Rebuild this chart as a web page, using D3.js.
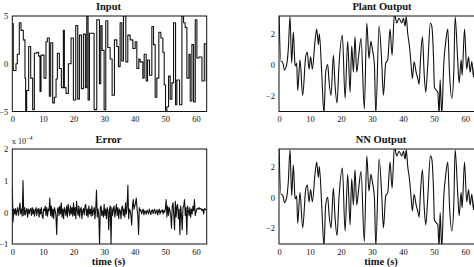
<!DOCTYPE html>
<html>
<head>
<meta charset="utf-8">
<script src="https://cdn.jsdelivr.net/npm/d3@7"></script>
<style>
body { margin: 0; background: #fff; }
text { font-family: "Liberation Serif", "Times New Roman", serif; }
</style>
</head>
<body>
<div id="chart"></div>
<script>
// ---- data ----
var tMax = 63.5;
var xTicks = [0, 10, 20, 30, 40, 50, 60];

// input: piecewise constant, value holds from inputT[i] until next time
var inputT = [0, 0.33, 1.2, 1.64, 2.29, 2.84, 3.6, 4.14, 4.36, 4.69, 5.34, 6.0, 6.65, 7.2, 7.96, 8.6,
    9.05, 9.38, 10.36, 11.0, 11.45, 12.1, 12.54, 13.2, 13.74, 14.29, 14.72, 15.38, 16.03, 16.68, 17.01,
    17.56, 18.32, 19.19, 19.96, 20.72, 21.37, 21.92, 22.57, 23.23, 23.88, 24.32, 24.75, 25.19, 26.72,
    27.59, 28.46, 28.9, 29.33, 29.99, 30.53, 31.19, 31.95, 32.61, 33.37, 34.13, 34.68, 35.22, 35.77,
    36.31, 37.08, 37.73, 38.5, 39.37, 40.13, 40.68, 41.33, 41.77, 42.64, 43.08, 43.73, 44.17, 44.82,
    45.58, 46.13, 46.67, 47.22, 47.87, 48.53, 49.18, 49.62, 50.05, 50.49, 51.04, 51.58, 52.13, 52.67,
    53.33, 53.76, 54.64, 55.4, 55.94, 56.49, 57.03, 57.69, 58.12, 58.67, 59.22, 59.76, 60.3, 60.96,
    61.94, 62.7, 63.36, 63.5];
var inputV = [4.2, -0.7, 0, 1, 4.3, 3.5, 2.5, -1.5, -5, -2.8, 1.8, -1.5, -4.8, 1.1, 1.2, 0.8,
    -2.9, 0.9, -1.5, 2.3, 2.7, -3.4, 2.2, -4.1, -3.5, -1.6, 1.1, -0.5, -2.5, 3.5, -2.5,
    -3.1, 0, 2.7, -3.8, 4, -3.7, 3, -2.6, 3.1, -2.5, 5, -3.8, 3.2, -4.8,
    4.6, -2.1, 4, 1.4, -4.8, 4.5, 1.7, 0.5, -3.3, 2.5, 1.8, -0.3, 4.3, 0.3,
    5, 0.2, 3, 2.5, 1.6, 2.3, -0.5, 0.5, 0.2, -1.5, 1, -1.8, 0.4, -1.2,
    3.9, 2, -3.5, -1.5, 3.3, 2.7, 1.2, -2.2, -5, -4.5, -1.3, -3.7, -2, 4.3,
    -4.3, -1.7, -4.3, 5, 4.3, 3.8, -1.5, 1, -3.9, 2, -4, 4.6, 0.6, 0.7,
    -1.8, 2.1, -1.8, -1.8];

// plant output (smooth curve through these points)
var plantT = [0, 0.6, 0.86, 1.4, 1.72, 2.47, 3.0, 3.55, 4.09, 4.62, 5.16, 5.48, 5.7, 6.02, 6.77, 7.63,
    8.6, 9.14, 9.68, 10.2, 10.75, 11.6, 12.15, 12.7, 13.0, 13.76, 14.5, 15.05, 15.7, 16.13, 16.77,
    17.53, 18.06, 18.7, 19.35, 20.43, 21.3, 22.15, 22.9, 23.44, 23.98, 24.5, 25.05, 25.7, 26.45,
    27.5, 28.3, 29.0, 29.6, 30.1, 30.75, 31.2, 32.26, 33.1, 33.66, 34.4, 35.05, 35.8, 36.45, 37.2,
    37.96, 38.7, 39.57, 40.1, 40.65, 41.0, 41.5, 42.04, 42.58, 43.0, 43.55, 44.2, 44.84, 45.16,
    45.6, 46.24, 46.77, 47.3, 47.96, 48.8, 49.25, 49.8, 50.1, 50.86, 51.2, 51.6, 51.94, 52.47,
    53.1, 53.76, 54.4, 54.95, 55.7, 56.34, 56.77, 57.6, 58.06, 58.7, 59.03, 59.8, 60.5, 61.1,
    61.6, 62.15, 62.7, 63.2, 63.5];
var plantV = [3.4, 0.2, 0.2, 0.0, -0.35, 0, 1, 3.1, 0.1, 2.1, 0, -0.1, 0.1, -1.7, 0.3, -2.0,
    0.5, 0.8, -0.3, 0.5, -0.3, 1.5, 2.3, 1.3, 2.0, -0.5, -3.2, -0.5, 0.0, -1.1, -2.0,
    0.6, -1.3, -2.5, 0, 1.9, -2.2, 1.5, -1.8, 1.2, -0.5, 1.8, -0.5, 0.6, 1.7,
    -2.9, 2.7, 0.4, 1.5, 1.0, 0, -3.2, 2.5, 0.2, -2.0, 0.1, 0.3, 2.3, 0.6, 3.3,
    2.7, 3.0, 2.7, 3.0, 2.5, 3.1, 2.0, 1.2, 0, -0.9, 0.2, -0.5, -1.0, -1.3,
    0.3, 1.8, -0.5, -1.8, 0, 2.7, 2.5, 0.5, -1.5, -1.7, -1.8, -3.3, -1.0, -3.3,
    0, 1.5, 2.3, -0.5, -2.2, -0.5, 3.1, 0.3, -1.2, 0.3, -0.7, 2.3, -0.3, 0.5,
    -0.5, 0.2, -0.8, 0.3, 0.5];

// NN output tracks the plant to within 1e-4, so it is the same curve
var nnT = plantT;
var nnV = plantV;

// error (x 1e-4), one sample every errDt seconds
var errDt = 0.25;
var errV = [
    0.8, -0.3, 0.1, -0.05, 0.12, -0.1, 0.05, 0.15,
    -0.1, 0.08, 0.3, -0.05, 0.1, -0.12, 1.0, -0.1,
    0.15, -0.08, 0.05, 0.12, -0.15, 0.1, -0.05, 0.08,
    0.12, -0.1, 0.15, -0.05, 0.1, -0.12, 0.05, 0.15,
    -0.1, 0.08, 0.12, -0.15, 0.1, -0.05, 0.15, -0.1,
    -0.2, 0.1, 0.05, 0.2, -0.1, 0.15, -0.12, 0.1,
    0.05, 0.45, -0.1, 0.2, -0.15, 0.1, -0.2, 0.15,
    0.05, -0.1, -0.7, 0.1, 0.15, -0.1, 0.2, -0.05,
    0.3, -0.15, 0.1, -0.2, 0.15, 0.05, -0.1, 0.2,
    -0.15, 0.25, 0.05, -0.1, 0.2, -0.05, 0.15, -0.12,
    0.3, -0.1, 0.15, -0.2, 0.35, 0.05, -0.1, 0.2,
    -0.15, 0.1, 0.15, -0.2, 0.05, 0.12, -0.08, 0.2,
    0.25, -0.1, 0.1, -0.15, 0.2, -0.05, 0.1, -0.12,
    0.2, -0.1, 0.05, 0.15, -0.2, 0.1, 0.7, -0.15,
    0.1, -0.1, -1.0, 0.15, 0.2, -0.1, 0.05, -0.15,
    0.25, -0.1, 0.1, -0.2, 0.15, 0.05, -0.55, 0.1,
    0.2, -1.0, 0.15, -0.1, 0.1, 0.2, -0.15, 0.05,
    0.25, -0.1, 0.15, -0.2, 0.1, 0.05, -0.2, 0.15,
    0.2, -0.1, 0.1, -0.15, 0.3, -0.05, 0.2, 0.85,
    -0.2, 0.1, 0.05, -0.1, -0.4, 0.2, 0.4, 0.1,
    0.2, 0.3, 0.45, 0.1, -0.1, -0.7, 0.15, 0.05,
    0.08, -0.05, 0.03, 0.1, -0.08, 0.05, 0.02, -0.06,
    0.07, 0.02, -0.05, 0.1, 0.03, -0.07, 0.05, 0.08,
    -0.04, 0.06, 0.1, -0.05, 0.02, 0.08, -0.08, 0.04,
    0.1, -0.06, 0.05, 0.02, 0.08, -0.05, 0.06, 0.0,
    0.1, 0.4, -0.15, 0.2, -0.1, 0.15, 0.05, -0.1,
    -0.5, 0.2, 0.3, -0.1, -0.55, 0.35, -0.15, 0.2,
    0.25, -0.2, 0.1, -0.7, 0.2, -0.1, -0.55, 0.15,
    0.2, 0.4, -0.1, 0.15, -0.7, 0.2, 0.05, -0.1,
    0.15, -0.15, 0.1, -0.05, 0.2, 0.05, 0.4, -0.1,
    0.0, 0.1, 0.12, 0.1, 0.15, 0.1, 0.12, 0.1,
    0.05, 0.1, -0.05, 0.12, 0.08, 0.1, 0.08];

// ---- drawing ----
var svg = d3.select("#chart").append("svg")
    .attr("width", 474)
    .attr("height", 267);

var leftX = [12.3, 206.7],
    rightX = [279, 476],
    topY = [16, 111.5],
    botY = [149, 244];

var clipId = 0;

function panel(xr, yr, yDomain, yTicks, title, titleX, pts, curve, xlabel) {
    var x = d3.scaleLinear().domain([0, tMax]).range(xr);
    var y = d3.scaleLinear().domain(yDomain).range([yr[1], yr[0]]);
    var id = "clip" + (clipId++);

    svg.append("clipPath").attr("id", id)
        .append("rect")
        .attr("x", xr[0]).attr("y", yr[0])
        .attr("width", xr[1] - xr[0]).attr("height", yr[1] - yr[0]);

    var line = d3.line()
        .x(d => x(d[0]))
        .y(d => y(d[1]))
        .curve(curve);

    svg.append("path")
        .datum(pts)
        .attr("clip-path", "url(#" + id + ")")
        .attr("fill", "none")
        .attr("stroke", "#111")
        .attr("stroke-width", 1.1)
        .attr("stroke-linejoin", "round")
        .attr("d", line);

    var fmt = d3.format("d");
    var gx = svg.append("g")
        .attr("transform", "translate(0," + yr[1] + ")")
        .call(d3.axisBottom(x).tickValues(xTicks).tickFormat(fmt).tickSize(0).tickPadding(4.5));
    var gy = svg.append("g")
        .attr("transform", "translate(" + xr[0] + ",0)")
        .call(d3.axisLeft(y).tickValues(yTicks).tickFormat(fmt).tickSize(0).tickPadding(4));
    [gx, gy].forEach(function(g) {
        g.select(".domain").remove();
        g.selectAll("text")
            .attr("font-family", "'Liberation Serif', 'Times New Roman', serif")
            .attr("font-size", 8.5)
            .attr("fill", "#111");
    });

    svg.append("rect")
        .attr("x", xr[0]).attr("y", yr[0])
        .attr("width", xr[1] - xr[0]).attr("height", yr[1] - yr[0])
        .attr("fill", "none")
        .attr("stroke", "#111")
        .attr("stroke-width", 1);

    svg.append("text")
        .attr("x", titleX)
        .attr("y", yr[0] - 6)
        .attr("text-anchor", "middle")
        .attr("font-weight", "bold")
        .attr("font-size", 10.5)
        .attr("fill", "#111")
        .text(title);

    if (xlabel) {
        svg.append("text")
            .attr("x", titleX)
            .attr("y", yr[1] + 20.5)
            .attr("text-anchor", "middle")
            .attr("font-weight", "bold")
            .attr("font-size", 10.5)
            .attr("fill", "#111")
            .text(xlabel);
    }
}

var inputPts = inputT.map((t, i) => [t, inputV[i]]);
var plantPts = plantT.map((t, i) => [t, plantV[i]]);
var nnPts = nnT.map((t, i) => [t, nnV[i]]);
var errPts = errV.map((v, i) => [i * errDt, v]);

panel(leftX, topY, [-5, 5], [-5, 0, 5], "Input", 108.5, inputPts, d3.curveStepAfter);
panel(rightX, topY, [-3.05, 3.15], [-2, 0, 2], "Plant Output", 382, plantPts, d3.curveMonotoneX);
panel(leftX, botY, [-1, 2], [-1, 0, 1, 2], "Error", 108.5, errPts, d3.curveLinear, "time (s)");
panel(rightX, botY, [-3.05, 3.15], [-2, 0, 2], "NN Output", 381, nnPts, d3.curveMonotoneX, "time (s)");

// exponent note above the error axis
var expo = svg.append("text")
    .attr("x", 12)
    .attr("y", 144)
    .attr("font-size", 8)
    .attr("fill", "#111");
expo.append("tspan").text("x 10");
expo.append("tspan").attr("dy", -4).attr("font-size", 6).text("\u22124");
</script>
</body>
</html>
